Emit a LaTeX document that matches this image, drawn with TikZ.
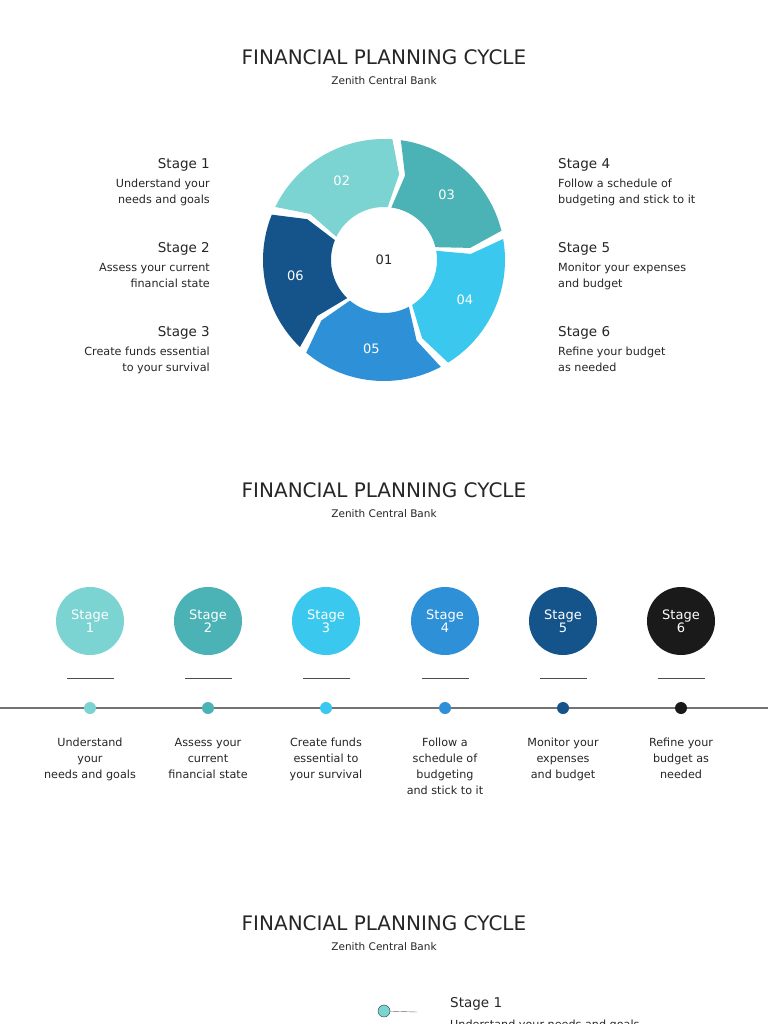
\documentclass[tikz,border=0pt]{standalone}
\usepackage{fontspec}
\setmainfont{DejaVu Sans}
\begin{document}
\begin{tikzpicture}[x=1pt,y=-1pt,
 title/.style={font=\fontsize{20}{22}\selectfont,text=black!85},
 sub/.style={font=\fontsize{10.5}{12}\selectfont,text=black!85},
 stg/.style={font=\fontsize{13.5}{15}\selectfont,text=black!85,inner sep=0pt},
 dsc/.style={font=\fontsize{11.2}{16}\selectfont,text=black!85,inner sep=0pt},
 seglab/.style={font=\fontsize{13}{15}\selectfont,text=white},
 bub/.style={circle,minimum size=68pt,inner sep=0pt,font=\fontsize{13}{13}\selectfont,text=white,align=center},
 dot/.style={circle,minimum size=12pt,inner sep=0pt}]
\definecolor{c1}{HTML}{7CD4D2}\definecolor{c2}{HTML}{4BB2B5}\definecolor{c3}{HTML}{3AC8EE}
\definecolor{c4}{HTML}{2E90D6}\definecolor{c5}{HTML}{14548A}\definecolor{c6}{HTML}{1A1A1A}
\useasboundingbox (0,0) rectangle (768,1024);
\fill[white] (0,0) rectangle (768,1024);
% titles
\foreach \y/\n in {57/a,490/b,923/c}{
 \node[title] (t\n) at (384,\y) {FINANCIAL PLANNING CYCLE};
 \node[sub] (s\n) at (384,\y+24) {Zenith Central Bank};}
% cycle
\begin{scope}[shift={(384,260)},yscale=-1]
\foreach \a/\c/\l in {120/c1/02,48/c2/03,-24/c3/04,-96/c4/05,-168/c5/06}{
 \fill[\c] (\a+34:121) arc[start angle=\a+34,end angle=\a-34,radius=121]
   -- (\a-40:87) -- (\a-34:53) arc[start angle=\a-34,end angle=\a+34,radius=53]
   -- (\a+28:87) -- cycle;
 \node[seglab] at (\a-2:90) {\l};}
\end{scope}
\node[font=\fontsize{13}{15}\selectfont,text=black!85] (c01) at (384,260) {01};
% left/right stage lists
\foreach \i/\y/\la/\lb in {1/165/Understand your/needs and goals,2/249/Assess your current/financial state,3/333/Create funds essential/to your survival}{
 \node[stg,anchor=east] (L\i) at (210,\y) {Stage \i};
 \node[dsc,anchor=north east,align=right] (LD\i) at (210,\y+14) {\la\\\lb};}
\foreach \i/\y/\la/\lb in {4/165/Follow a schedule of/budgeting and stick to it,5/249/Monitor your expenses/and budget,6/333/Refine your budget/as needed}{
 \node[stg,anchor=west] (R\i) at (558,\y) {Stage \i};
 \node[dsc,anchor=north west,align=left] (RD\i) at (558,\y+14) {\la\\\lb};}
% timeline
\coordinate (tl0) at (0,708); \coordinate (tl1) at (768,708);
\draw[black!55,line width=1.2pt] (tl0) -- (tl1);
\foreach \i/\x/\c/\d in {1/90/c1/{Understand\\your\\needs and goals},2/208/c2/{Assess your\\current\\financial state},3/326/c3/{Create funds\\essential to\\your survival},4/445/c4/{Follow a\\schedule of\\budgeting\\and stick to it},5/563/c5/{Monitor your\\expenses\\and budget},6/681/c6/{Refine your\\budget as\\needed}}{
 \node[bub,fill=\c] (B\i) at (\x,621) {Stage\\\i};
 \coordinate (ma\i) at (\x-23,678); \coordinate (mb\i) at (\x+24,678);
 \draw[black!70,line width=0.8pt] (ma\i) -- (mb\i);
 \node[dot,fill=\c] (D\i) at (\x,708) {};
 \node[dsc,anchor=north,align=center] (T\i) at (\x,738) {\d};}
% bottom
\node[circle,draw=black!80,fill=c1,minimum size=12pt,inner sep=0pt] (bc) at (384,1011) {};
\coordinate (be) at (417,1012);
\draw[black!60] (bc) -- (be);
\node[stg,anchor=west] (bs) at (450,1004) {Stage 1};
\node[dsc,anchor=west] (bd) at (450,1025) {Understand your needs and goals};
\end{tikzpicture}
\end{document}
